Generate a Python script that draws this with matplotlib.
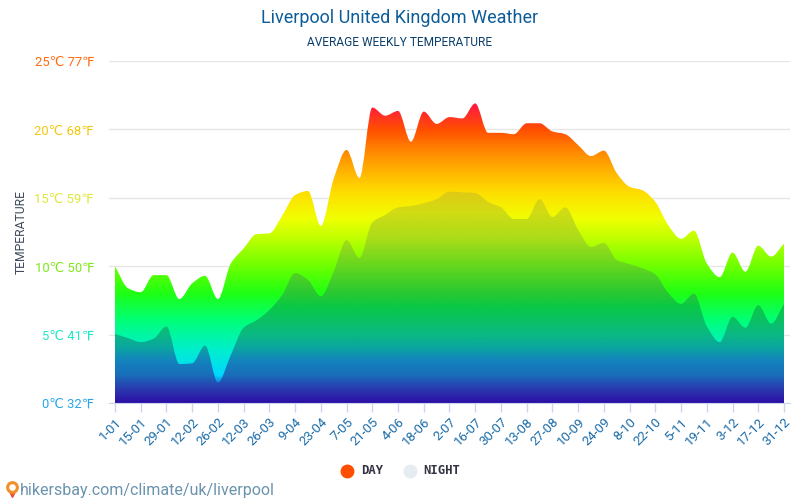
import numpy as np
import matplotlib
matplotlib.use("Agg")
import matplotlib.pyplot as plt
from matplotlib.colors import LinearSegmentedColormap
from matplotlib.path import Path
from matplotlib.patches import PathPatch

# Weekly values, degrees C
day_temp = [10.0, 8.4, 8.1, 9.35, 9.35, 7.6, 8.75, 9.3, 7.6, 10.2, 11.3, 12.35, 12.4,
            13.7, 15.2, 15.5, 12.95, 16.4, 18.5, 16.45, 21.6, 21.0, 21.35, 19.1, 21.3, 20.4,
            20.9, 20.8, 21.9, 19.75, 19.75, 19.65, 20.45, 20.45, 19.85, 19.65, 18.85, 18.05, 18.45,
            16.8, 15.8, 15.55, 14.7, 13.0, 12.0, 12.6, 10.2, 9.2, 11.0, 9.6, 11.5, 10.7, 11.65]
night_temp = [5.05, 4.75, 4.45, 4.7, 5.6, 2.85, 2.9, 4.2, 1.5, 3.5, 5.5, 6.05, 6.8,
              7.9, 9.5, 9.0, 7.8, 9.6, 11.9, 10.6, 13.2, 13.75, 14.3, 14.4, 14.6, 14.9,
              15.45, 15.4, 15.35, 14.7, 14.3, 13.45, 13.45, 14.9, 13.6, 14.3, 12.65, 11.4, 11.7,
              10.45, 10.15, 9.85, 9.4, 8.05, 7.25, 8.0, 5.6, 4.45, 6.3, 5.5, 7.15, 5.8, 7.25]

date_labels = ["1-01", "15-01", "29-01", "12-02", "26-02", "12-03", "26-03", "9-04", "23-04",
               "7-05", "21-05", "4-06", "18-06", "2-07", "16-07", "30-07", "13-08", "27-08",
               "10-09", "24-09", "8-10", "22-10", "5-11", "19-11", "3-12", "17-12", "31-12"]
y_values = [0, 5, 10, 15, 20, 25]
y_labels = ["0℃ 32℉", "5℃ 41℉", "10℃ 50℉", "15℃ 59℉", "20℃ 68℉", "25℃ 77℉"]
y_colors = ["#2aa5e6", "#1fe8c8", "#7fe81a", "#dde83a", "#f2c80f", "#ff6a10"]

# (temperature, colour) stops of the two vertical gradients
day_stops = [(0, "#2d0fa5"), (1, "#1a50c8"), (2, "#00d8ff"), (4, "#00f0c8"), (6, "#00ff78"),
             (8, "#1eff14"), (10, "#6eff00"), (12, "#beff00"), (13.5, "#f0ff00"), (15.5, "#ffdc00"),
             (18, "#ff9600"), (20, "#ff5000"), (22, "#ff1446"), (25, "#ff0050")]
night_stops = [(0, "#2d0fa5"), (1, "#2a3cb0"), (2, "#196eb9"), (3, "#1482be"), (4, "#0aa5a0"),
               (5, "#0ab982"), (7, "#0ac846"), (8, "#28c832"), (10, "#64d71e"), (12, "#aadc19"),
               (14, "#d2dc14"), (15.5, "#e1c814"), (25, "#e1c814")]

plt.rcParams["font.family"] = ["Roboto", "DejaVu Sans"]


def smooth_area(values):
    """Closed monotone-cubic area path under the weekly values."""
    y = np.asarray(values, dtype=float)
    x = np.arange(len(y), dtype=float)
    d = np.diff(y)
    m = np.zeros_like(y)
    m[0], m[-1] = d[0], d[-1]
    for i in range(1, len(y) - 1):
        if d[i - 1] * d[i] > 0:
            m[i] = 2 * d[i - 1] * d[i] / (d[i - 1] + d[i])
    verts = [(x[0], 0), (x[0], y[0])]
    codes = [Path.MOVETO, Path.LINETO]
    for i in range(len(y) - 1):
        verts += [(x[i] + 1 / 3, y[i] + m[i] / 3), (x[i + 1] - 1 / 3, y[i + 1] - m[i + 1] / 3),
                  (x[i + 1], y[i + 1])]
        codes += [Path.CURVE4] * 3
    verts += [(x[-1], 0), (x[0], 0)]
    codes += [Path.LINETO, Path.CLOSEPOLY]
    return Path(verts, codes)


def gradient_cmap(name, stops):
    return LinearSegmentedColormap.from_list(name, [(t / 25, c) for t, c in stops], N=256)


fig = plt.figure(figsize=(8, 5), dpi=100)
# axes box in pixels: left 109, right 790, y=25 at 61, y=0 at 403
ax = fig.add_axes([109 / 800, 1 - 403 / 500, 681 / 800, 342 / 500])
step = 669 / 52
ax.set_xlim(-6 / step, 52 + 6 / step)
ax.set_ylim(0, 25)

gradient = np.linspace(0, 1, 500).reshape(-1, 1)
for vals, stops, name, z in [(day_temp, day_stops, "day", 2), (night_temp, night_stops, "night", 3)]:
    im = ax.imshow(gradient, cmap=gradient_cmap(name, stops), origin="lower", aspect="auto",
                   extent=(0, 52, 0, 25), zorder=z, interpolation="bilinear")
    patch = PathPatch(smooth_area(vals), transform=ax.transData, fc="none", ec="none")
    ax.add_patch(patch)
    im.set_clip_path(patch)
ax.set_xlim(-6 / step, 52 + 6 / step)
ax.set_ylim(0, 25)

ax.set_yticks(y_values)
ax.set_yticklabels(y_labels, fontsize=9.4)
for lab, c in zip(ax.get_yticklabels(), y_colors):
    lab.set_color(c)
ax.grid(axis="y", color="#e6e6e6", lw=1, zorder=1)
ax.tick_params(axis="y", length=0, pad=10.8)

ax.set_xticks(np.arange(0, 53, 2))
ax.set_xticklabels(date_labels, rotation=45, ha="right", va="top", rotation_mode="anchor",
                   fontsize=9.5, color="#1b6ca8")
ax.tick_params(axis="x", length=6.5, width=1, color="#ccd6eb", pad=2.5)

for side in ["top", "right", "left"]:
    ax.spines[side].set_visible(False)
ax.spines["bottom"].set_color("#ccd6eb")
ax.spines["bottom"].set_zorder(4)

fig.text(400 / 800, 1 - 18 / 500, "Liverpool United Kingdom Weather", ha="center", va="center",
         fontsize=13, color="#0b5c99")
fig.text(400 / 800, 1 - 42 / 500, "AVERAGE WEEKLY TEMPERATURE", ha="center", va="center",
         fontsize=8.6, color="#0b3f6b")
fig.text(21 / 800, 1 - 232 / 500, "TEMPERATURE", rotation=90, ha="center", va="center",
         fontsize=8.7, color="#3d4a5c")

# legend
legend_y = 1 - 471 / 500
fig.add_artist(plt.Line2D([347 / 800], [legend_y], marker="o", ms=9, color="#ff4e00", lw=0))
fig.text(361 / 800, legend_y, "DAY", family="DejaVu Sans Mono", weight="bold", fontsize=8.8,
         color="#333344", ha="left", va="center")
fig.add_artist(plt.Line2D([410 / 800], [legend_y], marker="o", ms=9, color="#e6edf2", lw=0))
fig.text(423 / 800, legend_y, "NIGHT", family="DejaVu Sans Mono", weight="bold", fontsize=8.8,
         color="#333344", ha="left", va="center")

# source link with pin
fig.add_artist(plt.Line2D([12 / 800], [1 - 493 / 500], marker="v", ms=5.5, color="#e8503a", lw=0))
fig.add_artist(plt.Line2D([12 / 800], [1 - 487 / 500], marker="o", ms=7, mfc="#ffffff", mec="#f0902a",
                          mew=2.2, lw=0))
fig.text(20 / 800, 1 - 490 / 500, "hikersbay.com/climate/uk/liverpool", ha="left", va="center",
         fontsize=11.55, color="#6a93ad")

fig.savefig("out.png", dpi=100)
